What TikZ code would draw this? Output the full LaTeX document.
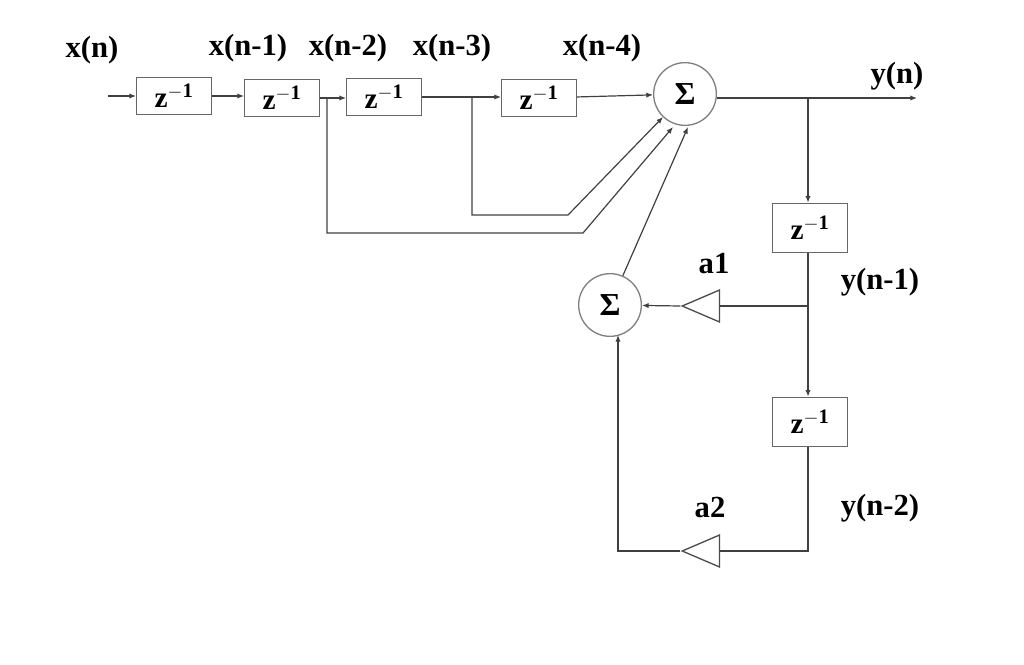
\documentclass[tikz,border=0pt]{standalone}
\usepackage{fontspec}
\setmainfont{Liberation Serif}
\usetikzlibrary{arrows.meta,shapes.geometric}
\begin{document}
\begin{tikzpicture}[x=0.75pt,y=-0.75pt,
  line width=0.9pt, draw=black!75,
  >={Latex[length=5pt,width=4pt]},
  blk/.style={draw=black!60,line width=1pt,minimum width=56pt,minimum height=28pt,inner sep=0pt,font=\bfseries\fontsize{22}{22}\selectfont},
  sum/.style={circle,draw=black!50,line width=1pt,minimum size=47pt,inner sep=0pt,font=\bfseries\fontsize{24}{24}\selectfont},
  tri/.style={isosceles triangle,shape border rotate=180,draw=black!70,line width=1pt,minimum height=28pt,minimum width=24pt,isosceles triangle stretches,inner sep=0pt},
  lbl/.style={font=\bfseries\fontsize{23}{23}\selectfont}]
\useasboundingbox (0,0) rectangle (1024,664);
\node[blk] (b1) at (174,96) {z$^{\mathbf{-1}}$};
\node[blk] (b2) at (282,98) {z$^{\mathbf{-1}}$};
\node[blk] (b3) at (384,97) {z$^{\mathbf{-1}}$};
\node[blk] (b4) at (539,98) {z$^{\mathbf{-1}}$};
\node[blk,minimum height=37pt] (b5) at (810,228) {z$^{\mathbf{-1}}$};
\node[blk,minimum height=37pt] (b6) at (810,422) {z$^{\mathbf{-1}}$};
\node[sum] (s1) at (685,94) {Σ};
\node[sum] (s2) at (610,305) {Σ};
\node[tri] (t1) at (709,306) {};
\node[tri] (t2) at (709,551) {};
\coordinate (in) at (108,96);
\coordinate (out) at (917,98);
\coordinate (p1) at (808,98);
\coordinate (p2) at (808,306);
\coordinate (p3) at (808,551);
\coordinate (p4) at (618,551);
\coordinate (p5) at (618,335);
\coordinate (tapA) at (327,98);
\coordinate (tapB) at (472,97);
\node[lbl] (l0) at (92,50) {x(n)};
\node[lbl] (l1) at (248,48) {x(n-1)};
\node[lbl] (l2) at (348,48) {x(n-2)};
\node[lbl] (l3) at (452,48) {x(n-3)};
\node[lbl] (l4) at (602,48) {x(n-4)};
\node[lbl] (ly) at (897,76) {y(n)};
\node[lbl] (la1) at (714,264) {a1};
\node[lbl] (ly1) at (880,282) {y(n-1)};
\node[lbl] (la2) at (710,507) {a2};
\node[lbl] (ly2) at (880,508) {y(n-2)};
\draw[->] (in) -- (b1);
\draw[->] (b1.east) -- (b2.west |- b1.east);
\draw[->] (b2.east) -- (b3.west |- b2.east);
\draw[->] (b3.east) -- (b4.west |- b3.east);
\draw[->] (b4) -- (s1);
\draw[->] (tapA) -- (327,233) -- (583,233) -- (673,127);
\draw[->] (tapB) -- (472,215) -- (568,215) -- (663,117);
\draw[->] (s2) -- (688,127);
\draw[->] (s1.east |- out) -- (out);
\draw[->] (p1) -- (b5.north -| p1);
\draw[->] (b5.south -| p1) -- (b6.north -| p1);
\draw (p2) -- (t1.east);
\draw[->] (t1.apex) -- (s2);
\draw (b6.south -| p3) -- (p3) -- (t2.east);
\draw[->] (t2.apex) -- (p4) -- (p5);
\end{tikzpicture}
\end{document}
